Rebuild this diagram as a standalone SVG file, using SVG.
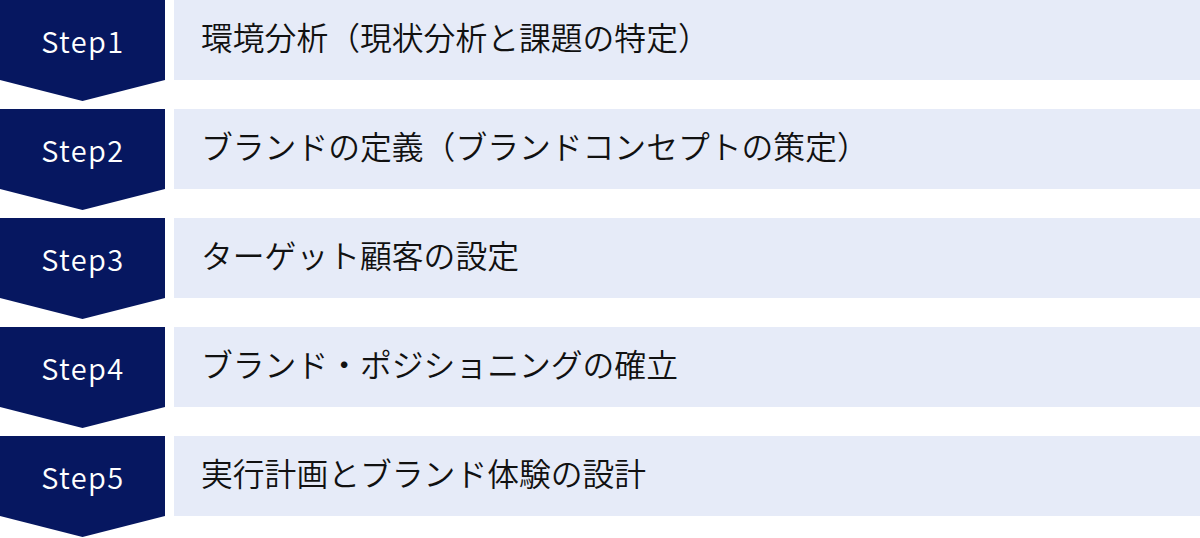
<svg xmlns="http://www.w3.org/2000/svg" width="1200" height="538" viewBox="0 0 1200 538">
<style>
.arrow{fill:#061760;}
.bar{fill:#e6ebf8;}
.step{font-family:"Noto Sans CJK JP","Noto Sans",sans-serif;font-size:29px;font-weight:350;fill:#ffffff;text-anchor:middle;letter-spacing:1.4px;}
.label{font-family:"Noto Sans CJK JP","Noto Sans JP",sans-serif;font-size:31.8px;font-weight:350;fill:#111111;}
</style>
<rect width="1200" height="538" fill="#ffffff"/>
<g id="step1">
<path class="arrow" d="M0 0H165V80L82.5 101L0 80Z"/>
<rect class="bar" x="174" y="0" width="1026" height="80"/>
<text class="step" x="83" y="53">Step1</text>
<text class="label" x="201" y="50">環境分析（現状分析と課題の特定）</text>
</g>
<g id="step2">
<path class="arrow" d="M0 109H165V189L82.5 210L0 189Z"/>
<rect class="bar" x="174" y="109" width="1026" height="80"/>
<text class="step" x="83" y="162">Step2</text>
<text class="label" x="201" y="159">ブランドの定義（ブランドコンセプトの策定）</text>
</g>
<g id="step3">
<path class="arrow" d="M0 218H165V298L82.5 319L0 298Z"/>
<rect class="bar" x="174" y="218" width="1026" height="80"/>
<text class="step" x="83" y="271">Step3</text>
<text class="label" x="201" y="268">ターゲット顧客の設定</text>
</g>
<g id="step4">
<path class="arrow" d="M0 327H165V407L82.5 428L0 407Z"/>
<rect class="bar" x="174" y="327" width="1026" height="80"/>
<text class="step" x="83" y="380">Step4</text>
<text class="label" x="201" y="377">ブランド・ポジショニングの確立</text>
</g>
<g id="step5">
<path class="arrow" d="M0 436H165V516L82.5 537L0 516Z"/>
<rect class="bar" x="174" y="436" width="1026" height="80"/>
<text class="step" x="83" y="489">Step5</text>
<text class="label" x="201" y="486">実行計画とブランド体験の設計</text>
</g>
<g id="connectors"></g>
</svg>
